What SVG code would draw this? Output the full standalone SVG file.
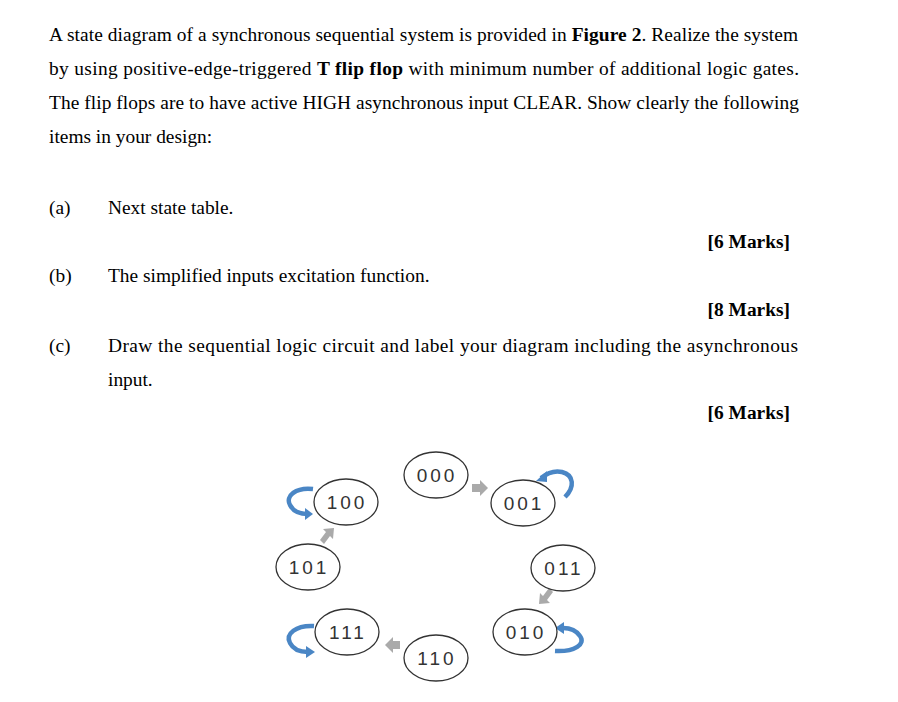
<svg xmlns="http://www.w3.org/2000/svg" width="898" height="702" viewBox="0 0 898 702">
<style>
.t{font-family:"Liberation Serif",serif;font-size:19.4px;fill:#000}
.b{font-weight:bold}
.s ellipse{fill:#fff;stroke:#333;stroke-width:1.3}
.s text{font-family:"Liberation Sans",sans-serif;font-size:19px;fill:#333;text-anchor:middle;letter-spacing:3px}
.g{fill:#aaa}
.l{fill:none;stroke:#4a86c5;stroke-width:4.5}
.lh{fill:#4a86c5}
</style>
<rect width="898" height="702" fill="#fff"/>
<text class="t" x="49" y="41" textLength="749">A state diagram of a synchronous sequential system is provided in <tspan class="b">Figure 2</tspan>. Realize the system</text>
<text class="t" x="49" y="75" textLength="750">by using positive-edge-triggered <tspan class="b">T flip flop</tspan> with minimum number of additional logic gates.</text>
<text class="t" x="49" y="109" textLength="750">The flip flops are to have active HIGH asynchronous input CLEAR. Show clearly the following</text>
<text class="t" x="49" y="143">items in your design:</text>
<text class="t" x="49" y="214">(a)</text><text class="t" x="108" y="214">Next state table.</text>
<text class="t b" x="790" y="248" text-anchor="end">[6 Marks]</text>
<text class="t" x="49" y="282">(b)</text><text class="t" x="108" y="282">The simplified inputs excitation function.</text>
<text class="t b" x="790" y="316" text-anchor="end">[8 Marks]</text>
<text class="t" x="49" y="352">(c)</text><text class="t" x="108" y="352" textLength="690">Draw the sequential logic circuit and label your diagram including the asynchronous</text>
<text class="t" x="108" y="386">input.</text>
<text class="t b" x="790" y="419" text-anchor="end">[6 Marks]</text>
<g id="connectors">
<polygon class="g" points="472,484 480,484 480,480 488,488 480,496 480,492 472,492"/>
<polygon class="g" points="320,540 326,532 323,529 334,528 333,539 330,536 324,544"/>
<polygon class="g" points="553,592 547,600 550,603 539,604 540,593 543,596 549,588"/>
<polygon class="g" points="400,641 393,641 393,637 385,645 393,653 393,649 400,649"/>
<path class="l" d="M313,489 C296,487 285,496 290,505 C293,511 300,514 308,514"/>
<polygon class="lh" points="313,514 305,508 305,520"/>
<path class="l" d="M565,497 C575,487 574,475 562,472 C553,470 546,474 541,478"/>
<polygon class="lh" points="536,481 547,471 547,482"/>
<path class="l" d="M314,626 C296,625 285,634 290,643 C293,649 300,652 308,652"/>
<polygon class="lh" points="315,652 306,646 306,658"/>
<path class="l" d="M555,651 C575,652 586,644 580,636 C576,630 570,628 563,628"/>
<polygon class="lh" points="555,628 564,622 564,634"/>
</g>
<g class="s">
<g id="s000"><ellipse cx="436" cy="475" rx="32" ry="23"/><text x="437" y="482">000</text></g>
<g id="s100"><ellipse cx="346" cy="502" rx="32" ry="23"/><text x="347" y="509">100</text></g>
<g id="s001"><ellipse cx="523" cy="503" rx="32" ry="23"/><text x="524" y="510">001</text></g>
<g id="s101"><ellipse cx="308" cy="567" rx="32" ry="23"/><text x="309" y="574">101</text></g>
<g id="s011"><ellipse cx="563" cy="568" rx="32" ry="23"/><text x="564" y="575">011</text></g>
<g id="s111"><ellipse cx="347" cy="632" rx="32" ry="23"/><text x="348" y="639">111</text></g>
<g id="s010"><ellipse cx="525" cy="632" rx="32" ry="23"/><text x="526" y="639">010</text></g>
<g id="s110"><ellipse cx="436" cy="658" rx="32" ry="23"/><text x="437" y="665">110</text></g>
</g>
</svg>
